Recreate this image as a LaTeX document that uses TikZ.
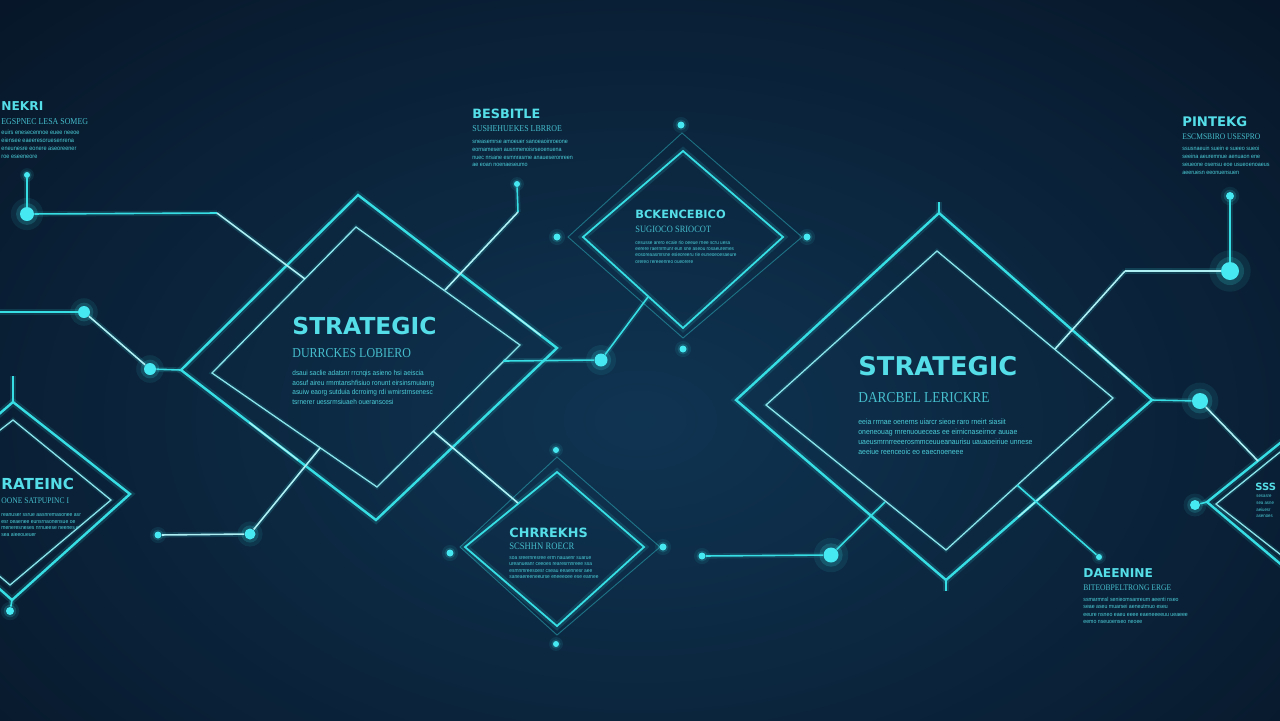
\documentclass[tikz,border=0pt]{standalone}
\usepackage{fontspec}
\usetikzlibrary{calc}
\setmainfont{DejaVu Sans}
\newfontfamily\subf[FakeStretch=0.88]{Liberation Serif}
\newfontfamily\bodyf[FakeStretch=0.9]{Liberation Sans}
\definecolor{bgd}{RGB}{7,22,40}
\definecolor{bgc}{RGB}{15,52,82}
\definecolor{cy}{RGB}{55,222,228}
\definecolor{cyl}{RGB}{140,228,235}
\definecolor{cyw}{RGB}{175,240,245}
\definecolor{dotc}{RGB}{70,232,242}
\definecolor{tc}{RGB}{85,222,232}
\definecolor{sc}{RGB}{70,190,205}
\definecolor{bc}{RGB}{75,205,216}
\newcommand\glowdot[3]{%
  \fill[cy,opacity=0.09] (#2) circle[radius={#3*1.15pt}];
  \fill[cy,opacity=0.18] (#2) circle[radius={#3*0.78pt}];
  \node[circle,fill=dotc,inner sep=0pt,minimum size={#3*1pt}] (#1) at (#2) {};}
\begin{document}
\begin{tikzpicture}[x=0.5pt,y=-0.5pt,
  outer/.style={draw=cy,line width=1.2pt,line join=miter,preaction={draw=cy,line width=3.5pt,opacity=0.14}},
  inner/.style={draw=cyl,line width=0.65pt,line join=miter,preaction={draw=cy,line width=2.2pt,opacity=0.12}},
  faint/.style={draw=cy,line width=0.45pt,opacity=0.4,line join=miter},
  conn/.style={draw=cy,line width=0.8pt,preaction={draw=cy,line width=2.6pt,opacity=0.14}},
  connw/.style={draw=cyw,line width=0.8pt,preaction={draw=cy,line width=2.6pt,opacity=0.16}},
  shine/.style={draw=white,line width=0.7pt,opacity=0.55},
  ttl/.style={font=\bfseries\fontsize{#1}{#1}\selectfont,text=tc,anchor=base west,inner sep=0pt},
  subt/.style={font=\subf\fontsize{#1}{#1}\selectfont,text=sc,anchor=base west,inner sep=0pt},
  body/.style 2 args={font=\bodyf\fontsize{#1}{#2}\selectfont,text=bc,anchor=north west,inner sep=0pt,align=left},
]
\useasboundingbox (0,0) rectangle (1280,720);
\clip (0,0) rectangle (1280,720);
% background
\fill[bgd] (0,0) rectangle (1280,720);
\shade[inner color=bgc,outer color=bgd] (640,420) ellipse [x radius=460pt,y radius=300pt];

% ---------- diamond geometry ----------
\coordinate (a1) at (358,195); \coordinate (a2) at (557,348);
\coordinate (a3) at (376,520); \coordinate (a4) at (181,370);
\coordinate (ai1) at (356,227); \coordinate (ai2) at (520,345);
\coordinate (ai3) at (377,487); \coordinate (ai4) at (212,373);

\coordinate (b1) at (939,213); \coordinate (b2) at (1152,400);
\coordinate (b3) at (946,580); \coordinate (b4) at (736,400);
\coordinate (bi1) at (937,251); \coordinate (bi2) at (1113,398);
\coordinate (bi3) at (946,550); \coordinate (bi4) at (766,405);

\coordinate (c1) at (682,133); \coordinate (c2) at (802,237);
\coordinate (c3) at (683,338); \coordinate (c4) at (568,237);
\coordinate (ci1) at (683,151); \coordinate (ci2) at (783,237);
\coordinate (ci3) at (683,328); \coordinate (ci4) at (583,237);

\coordinate (g1) at (557,457); \coordinate (g2) at (660,547);
\coordinate (g3) at (557,635); \coordinate (g4) at (460,547);
\coordinate (gi1) at (557,472); \coordinate (gi2) at (644,547);
\coordinate (gi3) at (557,626); \coordinate (gi4) at (465,547);

\coordinate (h1) at (13,402); \coordinate (h2) at (130,494);
\coordinate (h3) at (12,600); \coordinate (h4) at (-100,500);
\coordinate (hi1) at (13,420); \coordinate (hi2) at (111,500);
\coordinate (hi3) at (10,585); \coordinate (hi4) at (-90,500);

\coordinate (f1) at (1207,502); \coordinate (f2) at (1290,435); \coordinate (f3) at (1290,572);
\coordinate (fi1) at (1216,504); \coordinate (fi2) at (1290,444); \coordinate (fi3) at (1290,562);

% connector ends and bends
\coordinate (e1) at (305,279); \coordinate (e2) at (320,448);
\coordinate (e3) at (445,290); \coordinate (e4) at (503,361);
\coordinate (e5) at (648,297); \coordinate (e6) at (433,431);
\coordinate (e7) at (518,503); \coordinate (e8) at (885,502);
\coordinate (e9) at (1017,485); \coordinate (e10) at (1055,349);
\coordinate (e11) at (1258,461);
\coordinate (k1) at (217,213); \coordinate (k2) at (518,212);
\coordinate (k3) at (1125,271); \coordinate (s1) at (-5,312);
\coordinate (t1) at (939,202); \coordinate (t2) at (946,591); \coordinate (t3) at (13,376);

% ---------- diamonds ----------
\draw[outer] (a1) -- (a2) -- (a3) -- (a4) -- cycle;
\draw[inner] (ai1) -- (ai2) -- (ai3) -- (ai4) -- cycle;
\draw[outer] (b1) -- (b2) -- (b3) -- (b4) -- cycle;
\draw[inner] (bi1) -- (bi2) -- (bi3) -- (bi4) -- cycle;
\draw[faint] (c1) -- (c2) -- (c3) -- (c4) -- cycle;
\draw[outer,line width=0.9pt] (ci1) -- (ci2) -- (ci3) -- (ci4) -- cycle;
\draw[faint] (g1) -- (g2) -- (g3) -- (g4) -- cycle;
\draw[outer,line width=0.9pt] (gi1) -- (gi2) -- (gi3) -- (gi4) -- cycle;
\draw[outer] (h1) -- (h2) -- (h3) -- (h4) -- cycle;
\draw[inner] (hi1) -- (hi2) -- (hi3) -- (hi4) -- cycle;
\draw[outer] (f2) -- (f1) -- (f3);
\draw[inner] (fi2) -- (fi1) -- (fi3);
\draw[conn] (b1) -- (t1);
\draw[conn] (b3) -- (t2);
\draw[conn] (h1) -- (t3);

% shine streaks
\draw[shine] ($(a2)!0.08!(a1)$) -- ($(a2)!0.3!(a1)$);
\draw[shine] ($(a4)!0.35!(a3)$) -- ($(a4)!0.6!(a3)$);
\draw[shine] ($(b2)!0.1!(b1)$) -- ($(b2)!0.3!(b1)$);
\draw[shine] ($(b2)!0.45!(b3)$) -- ($(b2)!0.65!(b3)$);

% ---------- dots ----------
\glowdot{p1}{27,175}{3}
\glowdot{P1}{27,214}{7}
\glowdot{p2}{84,312}{6}
\glowdot{p3}{150,369}{6}
\glowdot{p4}{158,535}{3.5}
\glowdot{P4}{250,534}{5.5}
\glowdot{p5}{517,184}{3}
\glowdot{P6}{601,360}{6.5}
\glowdot{q1}{681,125}{3.5}
\glowdot{q2}{807,237}{3.5}
\glowdot{q3}{683,349}{3.5}
\glowdot{q4}{557,237}{3.5}
\glowdot{r1}{556,450}{3}
\glowdot{r2}{663,547}{3.5}
\glowdot{r3}{556,644}{3}
\glowdot{r4}{450,553}{3.5}
\glowdot{p7}{702,556}{3.5}
\glowdot{P7}{831,555}{7.5}
\glowdot{p8}{1099,557}{3}
\glowdot{p9}{1230,196}{4}
\glowdot{P9}{1230,271}{9}
\glowdot{P10}{1200,401}{8}
\glowdot{p11}{1195,505}{5}
\glowdot{p12}{10,611}{4}

% ---------- connectors ----------
\draw[conn] (p1) -- (P1);
\draw[conn] (P1) -- (k1);
\draw[connw] (k1) -- (e1);
\draw[conn] (s1) -- (p2);
\draw[connw] (p2) -- (p3);
\draw[conn] (p3) -- (a4);
\draw[connw] (p4) -- (P4);
\draw[connw] (P4) -- (e2);
\draw[conn] (p5) -- (k2);
\draw[connw] (k2) -- (e3);
\draw[conn] (e4) -- (P6);
\draw[conn] (P6) -- (e5);
\draw[connw] (e6) -- (e7);
\draw[conn] (p7) -- (P7);
\draw[conn] (P7) -- (e8);
\draw[conn] (e9) -- (p8);
\draw[conn] (P9) -- (p9);
\draw[connw] (P9) -- (k3);
\draw[connw] (k3) -- (e10);
\draw[conn] (b2) -- (P10);
\draw[connw] (P10) -- (e11);
\draw[conn] (p11) -- (f1);
\draw[conn] (h3) -- (p12);

% ---------- texts ----------
% big left diamond
\node[ttl=11.7pt] (d1t) at (292,334) {STRATEGIC};
\node[subt=6.8pt] (d1s) at (292,357) {DURRCKES LOBIERO};
\node[body={3.6}{4.8}] (d1b) at (292,370) {dsaui saclie adatsnr rrcnqis asieno hsi aeiscia\\aosuf aireu rmmtanshfisiuo ronunt eirsinsmuianrg\\asuiw eaorg sutduia dcrroimg rdi wmirstrnsenesc\\tsrnerer uessrmsiuaeh oueranscesi};
% big right diamond
\node[ttl=12.9pt] (d2t) at (858,375) {STRATEGIC};
\node[subt=7.6pt] (d2s) at (858,402) {DARCBEL LERICKRE};
\node[body={3.8}{5}] (d2b) at (858,419) {eeia rrrnae oenerns uiarcr sieoe raro rneirt siasiit\\oneneouag rnrenuoueceas ee eirnicnaseirnor auuae\\uaeusmrnrreeerosmmceuueanaurisu uauaoeiriue unnese\\aeeiue reenceoic eo eaecnoeneee};
% top middle diamond
\node[ttl=5.7pt] (d3t) at (635,218) {BCKENCEBICO};
\node[subt=4.8pt] (d3s) at (635,232) {SUGIOCO SRIOCOT};
\node[body={2.6}{3.15}] (d3b) at (635,240) {cesusse arero ecaie rio oeeue rnee scru uesa\\eerere raernrmunr eun sne aseou rosaeuremes\\eosoreaasmrsne esieoreeru rie euneoeoesaeure\\orereo rereeenreo oueorere};
% bottom middle diamond
\node[ttl=6.4pt] (d4t) at (509,537) {CHRREKHS};
\node[subt=4.9pt] (d4s) at (509,549) {SCSHHN ROECR};
\node[body={2.7}{3.25}] (d4b) at (509,556) {soa sreernresree erm nauaenr suarue\\ureanueanr ceeoes rearesrnnreee ssa\\esmnmreesoesr cseau eeaennesr aee\\saneaereeneeurse eneeeoee ese earnee};
% left partial diamond
\node[ttl=7.6pt] (d5t) at (1,489) {RATEINC};
\node[subt=4.3pt] (d5s) at (1,503) {OONE SATPUPINC I};
\node[body={2.8}{3.35}] (d5b) at (1,513) {reanuser ssrue aasnremasonee asr\\esr oeaenee eunsrnaonensue oe\\meneresneses nrnueese neenes e\\sea aieeoueuer};
% right partial diamond
\node[ttl=5pt] (d6t) at (1255,490) {SSS};
\node[body={2.4}{3.3}] (d6b) at (1256,495) {sesasre\\sea asne\\aeiuesr\\asenoes};
% top-left block
\node[ttl=6.1pt] (t1t) at (1,110) {NEKRI};
\node[subt=4.5pt] (t1s) at (1,124) {EGSPNEC LESA SOMEG};
\node[body={3.1}{4}] (t1b) at (1,130) {euirs enesecennoe euee neeoe\\eiensee eaeeresoruesenrena\\eneunesre eonere aseoreener\\roe eseeneore};
% top middle block
\node[ttl=6.4pt] (t2t) at (472,118) {BESBITLE};
\node[subt=4.5pt] (t2s) at (472,131) {SUSHEHUEKES LBRROE};
\node[body={3}{3.85}] (t2b) at (472,139) {sneasemrse amoeuer sanoeaoinroeone\\eornamesen ausnmenoisrseoenuena\\nuec nrsane esmnrasrne anaueseronreen\\ae eoan noenaeseumo};
% top right block
\node[ttl=6.6pt] (t3t) at (1182,126) {PINTEKG};
\node[subt=4.3pt] (t3s) at (1182,139) {ESCMSBIRO USESPRO};
\node[body={3}{4}] (t3b) at (1182,146) {ssusnaeuin suein e sueeo sueoi\\seeina aeuremnue aenuaon ene\\seueone osensu eoe usueoenoaeus\\aeeruesn eeonuensuen};
% bottom right block
\node[ttl=6.1pt] (t4t) at (1083,577) {DAEENINE};
\node[subt=4.3pt] (t4s) at (1083,590) {BITEOBPELTRONG ERGE};
\node[body={2.9}{3.65}] (t4b) at (1083,597) {ssmarmnsl senieomsanreum aeenti nseo\\seae aseu muarsei aeneutmuo eseu\\eeure nsneo eaeu eeee eaeneeeeuu ueaeee\\eemo nseuoenseo neoee};
\end{tikzpicture}
\end{document}
